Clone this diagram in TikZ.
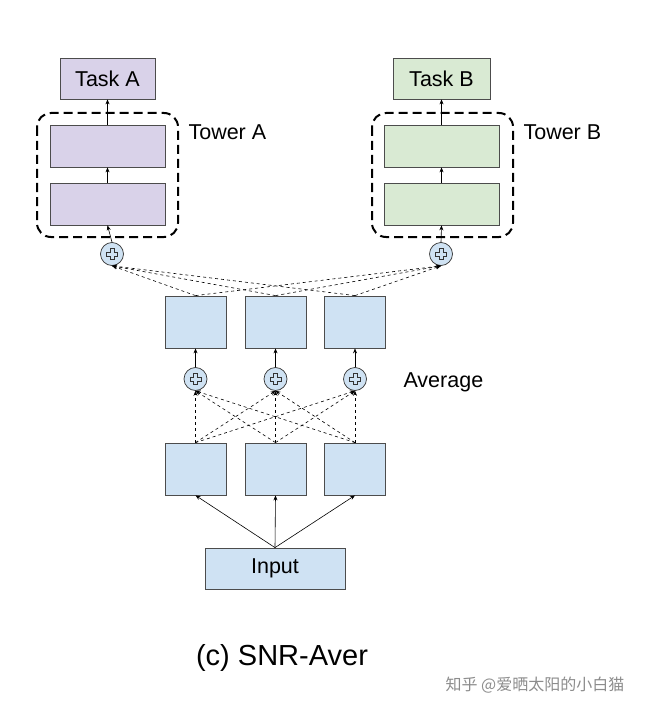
\documentclass[tikz,border=0pt]{standalone}
\usepackage{fontspec}
\setmainfont{Liberation Sans}
\newfontfamily\cjk{Noto Sans CJK SC}
\usetikzlibrary{arrows.meta}
\definecolor{pur}{HTML}{D9D2E9}
\definecolor{grn}{HTML}{D9EAD3}
\definecolor{blu}{HTML}{CFE2F3}
\begin{document}
\begin{tikzpicture}[x=1pt,y=-1pt,
 box/.style={draw=black!70,line width=0.8pt,minimum width=#1,inner sep=0pt},
 sq/.style={box=61pt,minimum height=52pt,fill=blu},
 tw/.style={box=115pt,minimum height=42pt},
 pl/.style={circle,draw=black!80,fill=blu,minimum size=23pt,inner sep=0pt,line width=0.7pt},
 tower/.style={draw,line width=2pt,dash pattern=on 9pt off 5pt,rounded corners=14pt},
 ar/.style={-{Stealth[length=5pt,width=4pt]},line width=0.6pt},
 da/.style={ar,dashed},
 lbl/.style={font=\fontsize{21.5}{25}\selectfont}]
\useasboundingbox (0,0) rectangle (660,714);
% towers
\node[box=95pt,minimum height=41pt,fill=pur,lbl] (ta) at (107.5,78.5) {Task A};
\node[tw,fill=pur] (a1) at (107.5,146) {};
\node[tw,fill=pur] (a2) at (107.5,204) {};
\draw[tower] (37,113) rectangle (178,237);
\node[lbl,anchor=west] (tla) at (185,132) {Tower A};
\node[box=97pt,minimum height=41pt,fill=grn,lbl] (tb) at (441.5,78.5) {Task B};
\node[tw,fill=grn] (b1) at (441.5,146) {};
\node[tw,fill=grn] (b2) at (441.5,204) {};
\draw[tower] (372,113) rectangle (513,237);
\node[lbl,anchor=west] (tlb) at (520,132) {Tower B};
\node[pl] (pa) at (112,254) {};
\node[pl] (pb) at (441,254) {};
% middle
\foreach \i/\x in {1/195.5,2/275.5,3/355} {
 \node[sq] (m\i) at (\x,322) {};
 \node[pl] (p\i) at (\x,379) {};
 \node[sq] (l\i) at (\x,469) {};
}
\node[lbl,anchor=west] (avg) at (400,382) {Average};
\node[box=140pt,minimum height=41pt,fill=blu,lbl] (in) at (275,568.5) {Input};
\foreach \n in {pa,pb,p1,p2,p3} {
 \draw[line width=0.6pt,black!80] ([xshift=-1.8pt,yshift=5.5pt]\n.center) -- ++(3.6,0) -- ++(0,3.7) -- ++(3.7,0) -- ++(0,3.6) -- ++(-3.7,0) -- ++(0,3.7) -- ++(-3.6,0) -- ++(0,-3.7) -- ++(-3.7,0) -- ++(0,-3.6) -- ++(3.7,0) -- cycle;
}
% arrows
\draw[ar] (ta.south |- a1.north) -- (ta.south);
\draw[ar] (a2.north) -- (a1.south);
\draw[ar] (pa.north) -- (a2.south);
\draw[ar] (b1.north) -- (tb.south);
\draw[ar] (b2.north) -- (b1.south);
\draw[ar] (pb.north) -- (b2.south);
\foreach \i in {1,2,3} {
 \draw[da] (m\i.north) -- (pa.south);
 \draw[da] (m\i.north) -- (pb.south);
 \draw[ar] (p\i.north) -- (m\i.south);
 \draw[ar] (in.north) -- (l\i.south);
 \foreach \j in {1,2,3} \draw[da] (l\i.north) -- (p\j.south);
}
\node[font=\fontsize{29}{34}\selectfont] (cap) at (282,658) {(c) SNR-Aver};
\node[font=\cjk\fontsize{16}{20}\selectfont,text=black!45] (wm) at (535,685) {知乎 @爱晒太阳的小白猫};
\end{tikzpicture}
\end{document}
